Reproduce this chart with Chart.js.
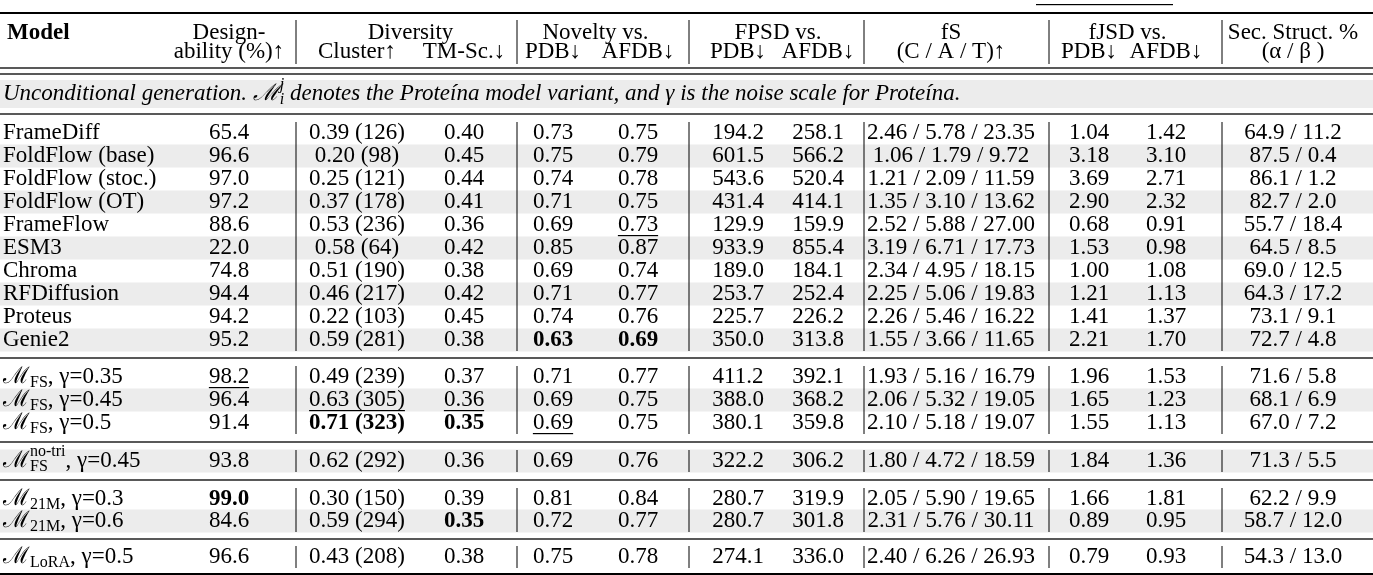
<!DOCTYPE html>
<html><head><meta charset="utf-8">
<script src="https://cdn.jsdelivr.net/npm/chart.js@4.4.1/dist/chart.umd.min.js"></script>
<style>html,body{margin:0;padding:0;background:#fff}#w{width:1373px;height:575px}</style>
</head><body><div id="w"><canvas id="c"></canvas></div>
<script>
// ---- data ----
const models = ["FrameDiff","FoldFlow (base)","FoldFlow (stoc.)","FoldFlow (OT)","FrameFlow","ESM3","Chroma","RFDiffusion","Proteus","Genie2",
 "ℳ_{FS}, γ=0.35","ℳ_{FS}, γ=0.45","ℳ_{FS}, γ=0.5","ℳ_{FS}^{no-tri}, γ=0.45","ℳ_{21M}, γ=0.3","ℳ_{21M}, γ=0.6","ℳ_{LoRA}, γ=0.5"];
const designability = ["65.4","96.6","97.0","97.2","88.6","22.0","74.8","94.4","94.2","95.2","__98.2","96.4","91.4","93.8","**99.0","84.6","96.6"];
const cluster = ["0.39 (126)","0.20 (98)","0.25 (121)","0.37 (178)","0.53 (236)","0.58 (64)","0.51 (190)","0.46 (217)","0.22 (103)","0.59 (281)","0.49 (239)","__0.63 (305)","**0.71 (323)","0.62 (292)","0.30 (150)","0.59 (294)","0.43 (208)"];
const tmScore = ["0.40","0.45","0.44","0.41","0.36","0.42","0.38","0.42","0.45","0.38","0.37","__0.36","**0.35","0.36","0.39","**0.35","0.38"];
const novPDB = ["0.73","0.75","0.74","0.71","0.69","0.85","0.69","0.71","0.74","**0.63","0.71","0.69","__0.69","0.69","0.81","0.72","0.75"];
const novAFDB = ["0.75","0.79","0.78","0.75","__0.73","0.87","0.74","0.77","0.76","**0.69","0.77","0.75","0.75","0.76","0.84","0.77","0.78"];
const fpsdPDB = ["194.2","601.5","543.6","431.4","129.9","933.9","189.0","253.7","225.7","350.0","411.2","388.0","380.1","322.2","280.7","280.7","274.1"];
const fpsdAFDB = ["258.1","566.2","520.4","414.1","159.9","855.4","184.1","252.4","226.2","313.8","392.1","368.2","359.8","306.2","319.9","301.8","336.0"];
const fS = ["2.46 / 5.78 / 23.35","1.06 / 1.79 / 9.72","1.21 / 2.09 / 11.59","1.35 / 3.10 / 13.62","2.52 / 5.88 / 27.00","3.19 / 6.71 / 17.73","2.34 / 4.95 / 18.15","2.25 / 5.06 / 19.83","2.26 / 5.46 / 16.22","1.55 / 3.66 / 11.65","1.93 / 5.16 / 16.79","2.06 / 5.32 / 19.05","2.10 / 5.18 / 19.07","1.80 / 4.72 / 18.59","2.05 / 5.90 / 19.65","2.31 / 5.76 / 30.11","2.40 / 6.26 / 26.93"];
const fjsdPDB = ["1.04","3.18","3.69","2.90","0.68","1.53","1.00","1.21","1.41","2.21","1.96","1.65","1.55","1.84","1.66","0.89","0.79"];
const fjsdAFDB = ["1.42","3.10","2.71","2.32","0.91","0.98","1.08","1.13","1.37","1.70","1.53","1.23","1.13","1.36","1.81","0.95","0.93"];
const secStruct = ["64.9 / 11.2","87.5 / 0.4","86.1 / 1.2","82.7 / 2.0","55.7 / 18.4","64.5 / 8.5","69.0 / 12.5","64.3 / 17.2","73.1 / 9.1","72.7 / 4.8","71.6 / 5.8","68.1 / 6.9","67.0 / 7.2","71.3 / 5.5","62.2 / 9.9","58.7 / 12.0","54.3 / 13.0"];
const header1 = ["Model","Design-","Diversity","Novelty vs.","FPSD vs.","fS","fJSD vs.","Sec. Struct. %"];
const header2 = ["ability (%)↑","Cluster↑","TM-Sc.↓","PDB↓","AFDB↓","PDB↓","AFDB↓","(C / A / T)↑","PDB↓","AFDB↓","(α / β )"];
const caption = "Unconditional generation. ℳ_{i}^{j} denotes the Proteína model variant, and γ is the noise scale for Proteína.";

// ---- layout ----
const colX = [3,229,357,464,553,638,738,818,951,1089,1166,1293];
const rowY = [133,156,179,202,225,248,271,294,317,340, 377,400,423, 461, 499,521, 557];
const grayRows = [1,3,5,7,9,11,13,15];
const seps = [296,517,689,864,1049,1222];
const blocks = [[0,9],[10,12],[13,13],[14,15],[16,16]];
const F = '"Liberation Serif", serif';
const FS = 23;

function drawRich(ctx, s, x, y, align, style){
  const parts=[]; let i=0, cur='';
  while(i<s.length){
    if((s[i]==='_'||s[i]==='^')&&s[i+1]==='{'){
      if(cur){parts.push({t:cur,k:'n'});cur='';}
      const j=s.indexOf('}',i); parts.push({t:s.slice(i+2,j),k:s[i]}); i=j+1;
    } else {cur+=s[i];i++;}
  }
  if(cur) parts.push({t:cur,k:'n'});
  const nf=(style?style+' ':'')+FS+'px '+F, sf=(style?style+' ':'')+Math.round(FS*0.68)+'px '+F;
  const widths=parts.map(p=>{ctx.font=p.k==='n'?nf:sf;return ctx.measureText(p.t).width;});
  let total=0;
  for(let a=0;a<parts.length;a++){
    if(parts[a].k==='^' && a>0 && parts[a-1].k==='_'){ total+=Math.max(0,widths[a]-widths[a-1]); }
    else total+=widths[a];
  }
  let cx = align==='center'? x-total/2 : x;
  ctx.textAlign='left'; ctx.textBaseline='middle';
  for(let a=0;a<parts.length;a++){
    const p=parts[a];
    if(p.k==='n'){ctx.font=nf;ctx.fillText(p.t,cx,y);cx+=widths[a];}
    else if(p.k==='_'){ctx.font=sf;ctx.fillText(p.t,cx,y+6);cx+=widths[a];}
    else { ctx.font=sf;
      if(a>0&&parts[a-1].k==='_'){const sx=cx-widths[a-1];ctx.fillText(p.t,sx,y-9);cx=Math.max(cx,sx+widths[a]);}
      else {ctx.fillText(p.t,cx,y-9);cx+=widths[a];}
    }
  }
}
function drawCell(ctx, v, x, y){
  let bold=false, ul=false;
  if(v.startsWith('**')){bold=true;v=v.slice(2);}
  if(v.startsWith('__')){ul=true;v=v.slice(2);}
  ctx.font=(bold?'bold ':'')+FS+'px '+F; ctx.textAlign='center'; ctx.textBaseline='middle';
  ctx.fillText(v,x,y);
  if(ul){const w=ctx.measureText(v).width;ctx.fillRect(x-w/2,y+10,w,1.2);}
}

const tablePlugin={id:'table',afterDraw(chart){
  const ctx=chart.ctx, xs=chart.scales.x, ys=chart.scales.y;
  const X=v=>xs.getPixelForValue(v), Y=v=>ys.getPixelForValue(v);
  ctx.save(); ctx.fillStyle='#ececec';
  grayRows.forEach(r=>ctx.fillRect(X(0),Y(rowY[r]-11.5),X(1373)-X(0),23));
  ctx.fillRect(X(0),Y(80),X(1373)-X(0),28);
  ctx.fillStyle='#000'; ctx.strokeStyle='#000';
  const hl=(y,lw)=>{ctx.fillRect(X(0),Y(y)-lw/2,X(1373)-X(0),lw);};
  hl(13,2); hl(68,1.3); hl(74,1.3); hl(114,1.3); hl(358,1.3); hl(442,1.3); hl(480,1.3); hl(539,1.3); hl(574,2);
  ctx.fillRect(X(1036),Y(4),137,1.2);
  ctx.lineWidth=1;
  const vl=(x,y0,y1)=>{ctx.beginPath();ctx.moveTo(X(x),Y(y0));ctx.lineTo(X(x),Y(y1));ctx.stroke();};
  seps.forEach(s=>{vl(s,20,64); blocks.forEach(b=>vl(s,rowY[b[0]]-11,rowY[b[1]]+11));});
  ctx.textBaseline='middle';
  ctx.font='bold '+FS+'px '+F; ctx.textAlign='left'; ctx.fillText(header1[0],X(7),Y(33));
  ctx.font=FS+'px '+F; ctx.textAlign='center';
  const h1x=[229,(357+464)/2,(553+638)/2,(738+818)/2,951,(1089+1166)/2,1293];
  for(let i=1;i<header1.length;i++) ctx.fillText(header1[i],X(h1x[i-1]),Y(33));
  for(let i=0;i<header2.length;i++) ctx.fillText(header2[i],X(colX[i+1]),Y(52));
  drawRich(ctx,caption,X(3),Y(94),'left','italic');
  const cols=[designability,cluster,tmScore,novPDB,novAFDB,fpsdPDB,fpsdAFDB,fS,fjsdPDB,fjsdAFDB,secStruct];
  models.forEach((m,r)=>{
    drawRich(ctx,m,X(colX[0]),Y(rowY[r]),'left','');
    cols.forEach((c,ci)=>drawCell(ctx,c[r],X(colX[ci+1]),Y(rowY[r])));
  });
  ctx.restore();
}};

function make(){
new Chart(document.getElementById('c'),{
  type:'scatter',
  data:{datasets:[{data:[],pointRadius:0}]},
  options:{responsive:true,maintainAspectRatio:false,animation:false,
    layout:{padding:0},
    plugins:{legend:{display:false},tooltip:{enabled:false}},
    scales:{x:{type:'linear',min:0,max:1373,display:false},
            y:{type:'linear',min:0,max:575,reverse:true,display:false}}},
  plugins:[tablePlugin]
});
}
Promise.all([
  document.fonts.load('23px "Liberation Serif"'),
  document.fonts.load('bold 23px "Liberation Serif"'),
  document.fonts.load('italic 23px "Liberation Serif"')
]).then(make, make);
</script></body></html>
